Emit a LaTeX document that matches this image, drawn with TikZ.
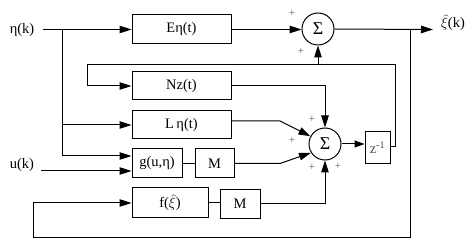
\documentclass[tikz,border=0pt]{standalone}
\usepackage{fontspec}
\setmainfont{Liberation Serif}
\usetikzlibrary{arrows.meta,calc}
\begin{document}
\begin{tikzpicture}[x=1pt,y=-1pt,
  line width=1pt,
  blk/.style={draw,rectangle,inner sep=0pt,font=\fontsize{14.5}{16}\selectfont},
  sumnode/.style={draw,circle,minimum size=32pt,inner sep=0pt,font=\fontsize{18}{19}\selectfont},
  lbl/.style={inner sep=0pt,font=\fontsize{14.5}{16}\selectfont},
  pl/.style={inner sep=0pt,text=black!65,font=\fontsize{11}{12}\selectfont},
  arr/.style={-{Triangle[length=12pt,width=7.5pt]}},
  sarr/.style={-{Triangle[length=10pt,width=7pt]}}]
\useasboundingbox (0,0) rectangle (474,240);
% blocks
\node[blk,minimum width=99pt,minimum height=29pt] (E) at (181.5,29.5) {Eη(t)};
\node[blk,minimum width=99pt,minimum height=28pt] (N) at (181.5,86) {Nz(t)};
\node[blk,minimum width=99pt,minimum height=28pt] (L) at (181.5,125) {L\,η(t)};
\node[blk,minimum width=50pt,minimum height=29pt] (g) at (157,163.5) {g(u,η)};
\node[blk,minimum width=39pt,minimum height=29pt] (M1) at (214.5,163.5) {M};
\node[blk,minimum width=76pt,minimum height=30pt] (f) at (170,203) {f(\(\widehat{\xi}\))};
\node[blk,minimum width=40pt,minimum height=29pt] (M2) at (240,204) {M};
\node[blk,minimum width=25pt,minimum height=32pt,text=black!70] (z) at (377.5,148) {z\textsuperscript{-1}};
\node[sumnode] (S1) at (318,29) {Σ};
\node[sumnode] (S2) at (325,144) {Σ};
% labels
\node[lbl] (eta) at (22,30) {η(k)};
\node[lbl] (u) at (22,165) {u(k)};
\node[lbl] (xi) at (453,23) {\(\widehat{\xi}\)(k)};
\node[pl] (p1) at (292,13) {+};
\node[pl] (p2) at (301,51) {+};
\node[pl] (p3) at (312,119) {+};
\node[pl] (p4) at (292,140) {+};
\node[pl] (p5) at (312,167) {+};
\node[pl] (p6) at (338,166) {+};
% coordinates
\coordinate (a0) at (43,29.5);
\coordinate (j1) at (62,29.5);
\coordinate (u0) at (41,171);
\coordinate (out) at (433,29.5);
\coordinate (j2) at (410,29.5);
\coordinate (b1) at (410,238);
\coordinate (b2) at (33,238);
\coordinate (c1) at (395,147);
\coordinate (c2) at (395,65);
\coordinate (c3) at (87,65);
\coordinate (c4) at (318,65);
\coordinate (k1) at (280,121);
\coordinate (k2) at (280,163.5);
% connectors
\draw[arr] (a0) -- (E.west);
\draw[arr] (j1 |- L.west) -- (L.west);
\draw[arr] (j1) |- ([yshift=7.5pt]g.west);
\draw[arr] (u0) -- ([yshift=-7.5pt]g.west);
\draw (g.east) -- (g.east -| M1.west);
\draw (f.east) -- (f.east -| M2.west);
\draw[arr] (E.east) -- (E.east -| S1.west);
\draw[arr] (S1.east) -- (out);
\draw[arr] (j2) -- (b1) -- (b2) |- (f.west);
\draw[arr] ([yshift=1pt]z.east) -- (c1) -- (c2) -- (c3) |- (N.west);
\draw[arr] (c4) -- (S1.south);
\draw[arr] (N.east) -| (S2.north);
\draw[arr] ([yshift=4pt]L.east) -- (k1) -- (S2.152);
\draw[arr] (M1.east) -- (k2) -- (S2.212);
\draw[arr] (M2.east) -| (S2.south);
\draw[sarr] (S2.east) -- (S2.east -| z.west);
\end{tikzpicture}
\end{document}
